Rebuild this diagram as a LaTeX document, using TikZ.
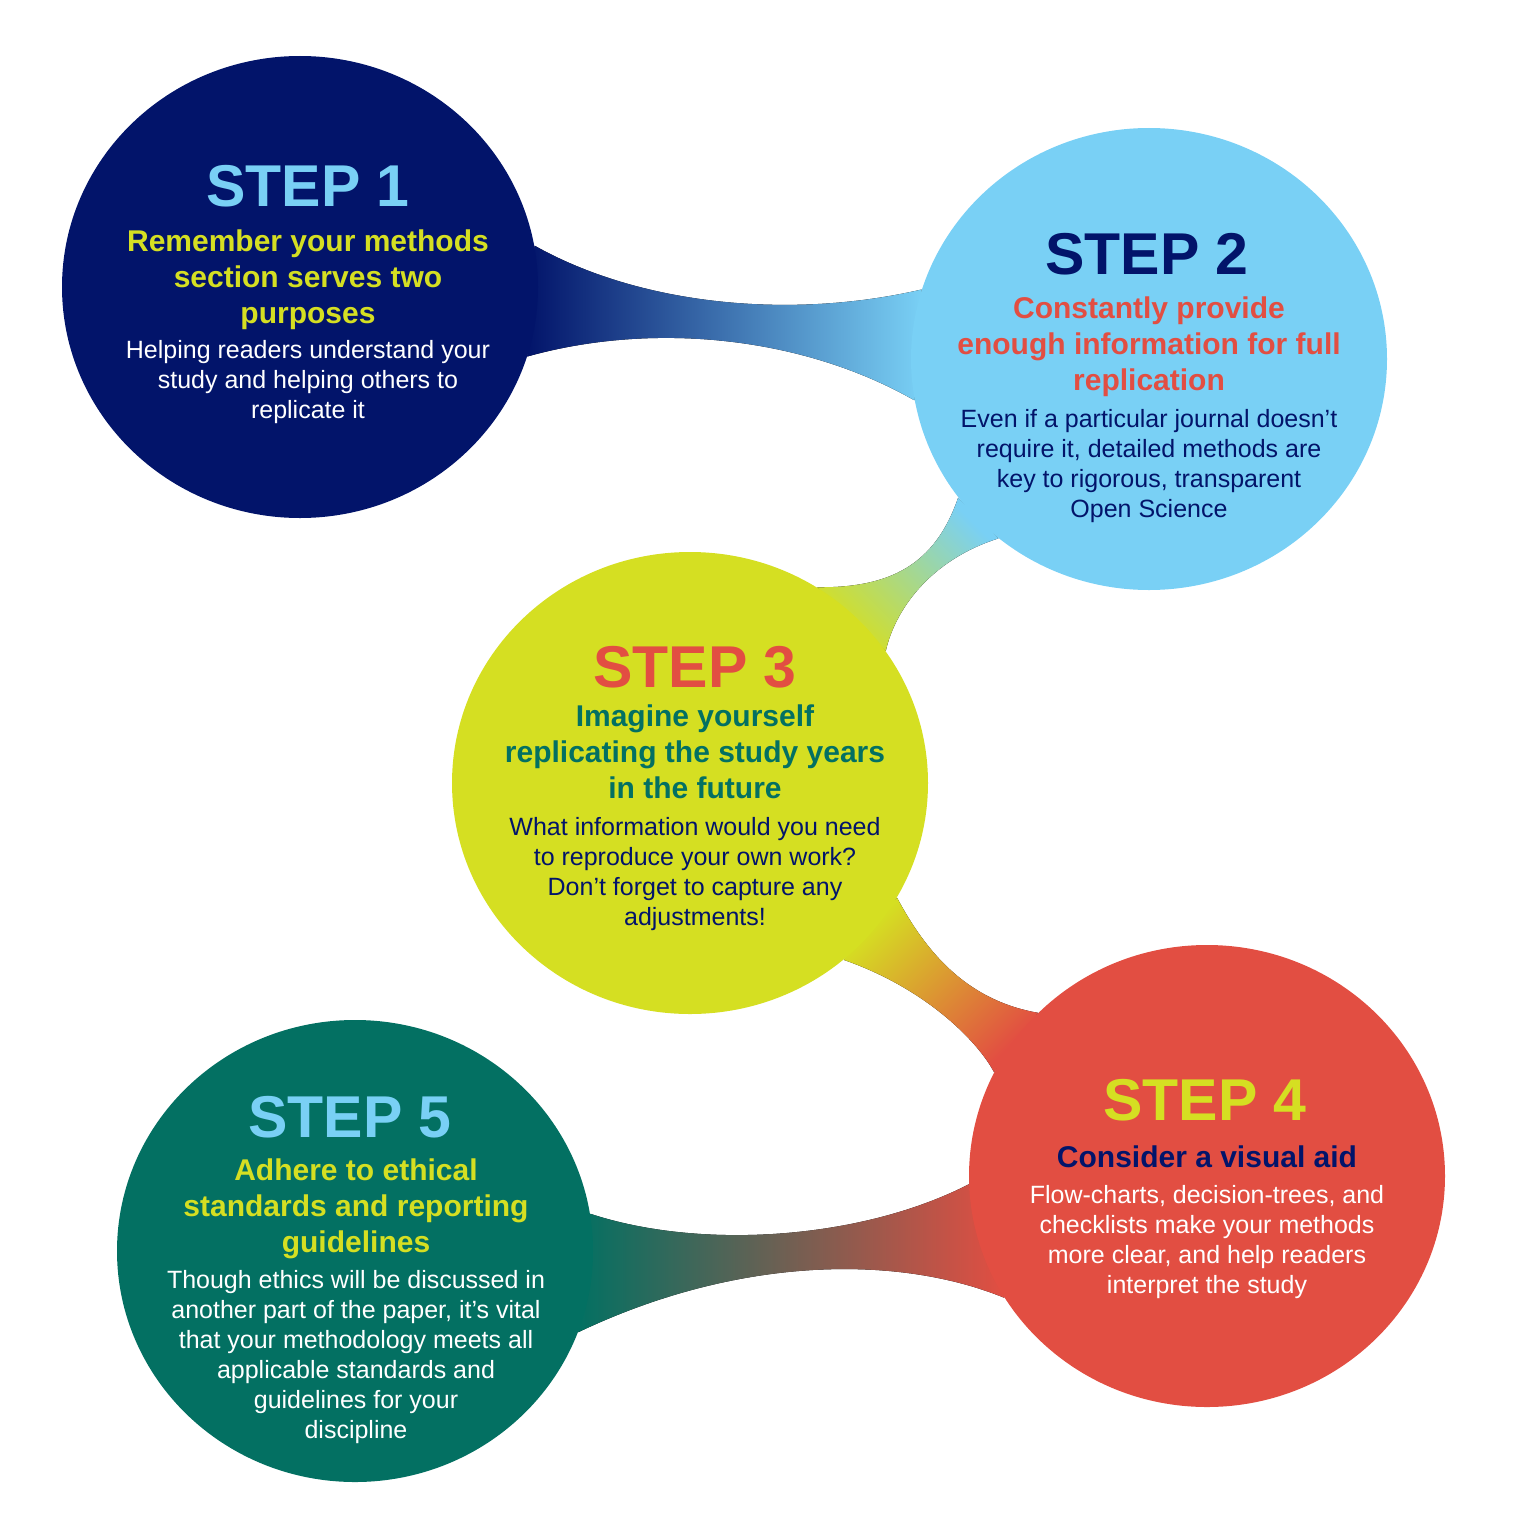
\documentclass[tikz,border=0pt]{standalone}
\usepackage{fontspec}
\setmainfont{Liberation Sans}
\usetikzlibrary{shapes.geometric}
\pgfdeclarelayer{background}
\pgfsetlayers{background,main}
\definecolor{navy}{HTML}{02146A}
\definecolor{lightblue}{HTML}{79D0F5}
\definecolor{lime}{HTML}{D5DF22}
\definecolor{coral}{HTML}{E24E42}
\definecolor{teal}{HTML}{037062}
\begin{document}
\begin{tikzpicture}
    [x=0.5pt, y=-0.5pt,
    stepcirc/.style={ellipse, inner sep=0pt, minimum width=238pt, minimum height=231pt},
    steptitle/.style={inner sep=0pt, anchor=base, font=\fontsize{29.5}{34}\selectfont\bfseries},
    stephead/.style={inner sep=0pt, anchor=base, align=center, font=\fontsize{15}{18}\selectfont\bfseries},
    steptext/.style={inner sep=0pt, anchor=base, align=center, font=\fontsize{12.5}{15}\selectfont}]
        \useasboundingbox (0,0) rectangle (1515,1536);
        %% Circles
        \node[stepcirc, fill=navy] (s1) at (300,287) {};
        \node[stepcirc, fill=lightblue] (s2) at (1149,359) {};
        \node[stepcirc, fill=lime] (s3) at (690,783) {};
        \node[stepcirc, fill=coral] (s4) at (1207,1176) {};
        \node[stepcirc, fill=teal] (s5) at (355,1251) {};

        %% Links between the circles
        \begin{pgfonlayer}{background}
        \fill[left color=navy, right color=lightblue] (s1.10) .. controls (640,305) and (790,320) .. (s2.163)
            -- (s2.190) .. controls (800,335) and (650,322) .. (s1.343) -- cycle;
        \fill[top color=lightblue, bottom color=lime, shading angle=-45] (s2.216) .. controls (935,565) and (890,588) .. (s3.57)
            -- (s3.34) .. controls (895,610) and (930,560) .. (s2.230) -- cycle;
        \fill[top color=lime, bottom color=coral, shading angle=45] (s3.331) .. controls (925,950) and (965,1000) .. (s4.136)
            -- (s4.154) .. controls (980,1045) and (930,990) .. (s3.311) -- cycle;
        \fill[left color=teal, right color=coral] (s5.9) .. controls (700,1250) and (860,1240) .. (s4.182)
            -- (s4.211) .. controls (900,1255) and (740,1255) .. (s5.340) -- cycle;
        \end{pgfonlayer}

        %% Step 1 (the base of a text block is its last line)
        \node[steptitle, lightblue] (t1) at (308,206) {STEP 1};
        \node[stephead, lime] (h1) at (308,323) {Remember your methods\\section serves two\\purposes};
        \node[steptext, white] (b1) at (308,418) {Helping readers understand your\\study and helping others to\\replicate it};
        %% Step 2
        \node[steptitle, navy] (t2) at (1147,274) {STEP 2};
        \node[stephead, coral] (h2) at (1149,390) {Constantly provide\\enough information for full\\replication};
        \node[steptext, navy] (b2) at (1149,517) {Even if a particular journal doesn’t\\require it, detailed methods are\\key to rigorous, transparent\\Open Science};
        %% Step 3
        \node[steptitle, coral] (t3) at (695,687) {STEP 3};
        \node[stephead, teal] (h3) at (695,798) {Imagine yourself\\replicating the study years\\in the future};
        \node[steptext, navy] (b3) at (695,925) {What information would you need\\to reproduce your own work?\\Don’t forget to capture any\\adjustments!};
        %% Step 4
        \node[steptitle, lime] (t4) at (1205,1120) {STEP 4};
        \node[stephead, navy] (h4) at (1207,1167) {Consider a visual aid};
        \node[steptext, white] (b4) at (1207,1293) {Flow-charts, decision-trees, and\\checklists make your methods\\more clear, and help readers\\interpret the study};
        %% Step 5
        \node[steptitle, lightblue] (t5) at (350,1137) {STEP 5};
        \node[stephead, lime] (h5) at (356,1252) {Adhere to ethical\\standards and reporting\\guidelines};
        \node[steptext, white] (b5) at (356,1438) {Though ethics will be discussed in\\another part of the paper, it’s vital\\that your methodology meets all\\applicable standards and\\guidelines for your\\discipline};
    \end{tikzpicture}
\end{document}
